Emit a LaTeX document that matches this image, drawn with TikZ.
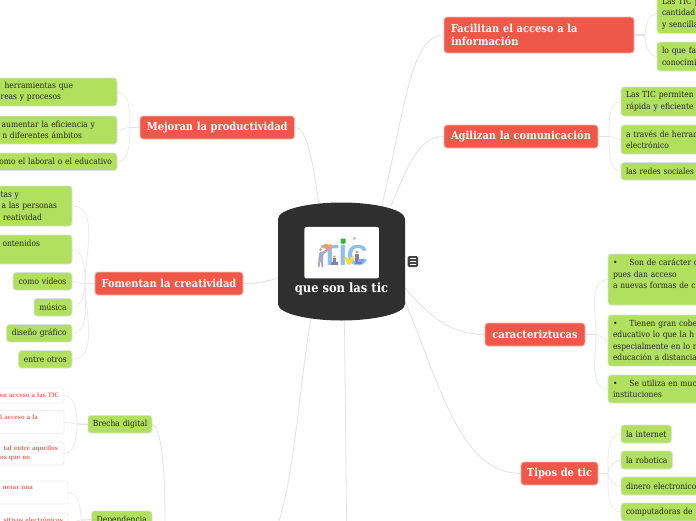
\documentclass[tikz,border=0pt]{standalone}
\usepackage{fontspec}
\setmainfont{DejaVu Serif Condensed}
\newfontfamily\sansb{Liberation Sans}
\usetikzlibrary{backgrounds}
\definecolor{grn}{HTML}{B0E05E}
\definecolor{grnl}{HTML}{DDE2D6}
\definecolor{rd}{HTML}{EF5848}
\definecolor{rdl}{HTML}{F5B9B2}
\definecolor{wl}{HTML}{EFEFEF}
\definecolor{wt}{HTML}{EE7166}
\definecolor{dk}{HTML}{2F2F2F}
\definecolor{lnk}{HTML}{E2E2E2}
\definecolor{lnks}{HTML}{EBEBEB}
\definecolor{tb}{HTML}{8CC2EA}
\tikzset{
 x=1pt,y=-1pt,
 boxbase/.style={rounded corners=3pt,inner sep=0pt,outer sep=0pt,line width=0.9pt},
 greenbox/.style={boxbase,fill=grn,draw=grnl,text=black!85,font=\fontsize{8.4}{11.4}\selectfont},
 redbox/.style={boxbase,fill=rd,draw=rdl,text=white,font=\fontsize{11}{13}\selectfont\bfseries},
 whitebox/.style={boxbase,fill=white,draw=wl,text=wt,font=\fontsize{6.1}{9.2}\selectfont\bfseries},
 link/.style={draw=lnk,line width=0.8pt},
 sublink/.style={draw=lnks,line width=0.8pt},
 stub/.style={draw=lnk,line width=1.2pt},
}
\newcommand\gp[1]{\rule{#1pt}{0pt}}
% #1 name, #2 style, #3 x1, #4 y1, #5 x2, #6 y2, #7 extra, #8 text
\newcommand\bx[8]{%
 \pgfmathsetmacro\bw{#5-#3}\pgfmathsetmacro\bh{#6-#4}%
 \pgfmathsetmacro\tw{#5-#3-10}%
 \node[#2,minimum width=\bw pt,minimum height=\bh pt,text width=\tw pt,#7] (#1) at ({(#3+#5)/2},{(#4+#6)/2}) {#8};}
\tikzset{ctd/.style={align=center,text width=\bw pt}}
\begin{document}
\begin{tikzpicture}
\useasboundingbox (0,0) rectangle (696,520);
\clip (0,0) rectangle (696,520);
% centre
\fill[dk] (278,219) .. controls (278,209) and (310,202.5) .. (341.5,202.5) .. controls (373,202.5) and (405,209) .. (405,219) -- (405,304) .. controls (405,314) and (373,320.5) .. (341.5,320.5) .. controls (310,320.5) and (278,314) .. (278,304) -- cycle;
\node[minimum width=127pt,minimum height=117pt,inner sep=0pt,outer sep=0pt] (ctr) at (341.5,261.5) {};
\node[inner sep=0pt,text=white,font=\fontsize{12.8}{14}\selectfont\bfseries] (ctrtxt) at (341.5,288.5) {que son las tic};
\node[fill=white,rounded corners=2pt,minimum width=74.5pt,minimum height=51.5pt,inner sep=0pt] (pic) at (341.7,252.7) {};
% picture inside
\node[inner sep=0pt,text=tb,font=\sansb\fontsize{29}{29}\selectfont\bfseries] (tictxt) at (344.5,256) {TIC};
\fill[rounded corners=0.6pt,green!65!black!80] (340.5,238.5) rectangle (345.5,243.5);
\fill[blue!25] (354.5,238.5) circle (1.8);
\fill[blue!15] (349,245) circle (1);
\fill[red!40!orange!60] (326,246) circle (2.3) (330,246.5) circle (2.3);
\fill[red!40!orange!60] (324,247) -- (332,247.5) -- (328.5,252) -- cycle;
\fill[yellow!70!orange!80] (345,257) .. controls (347,257) and (348,258) .. (349,260) .. controls (350,258) and (352,256) .. (354,256) .. controls (354,261) and (351,264) .. (349,265) .. controls (347,264) and (345,261) .. (345,257) -- cycle;
\fill[black!55!blue!35!white] (319.5,252) -- (323,251.5) -- (329,247.5) -- (329.5,249) -- (323.5,254.5) -- (323,260) -- (323,267) -- (321.5,267) -- (320.8,260) -- (319.5,267) -- (318,267) -- (318.5,258) -- cycle;
\fill[orange!50!brown!80] (320.5,249.5) circle (1.5);
\fill[blue!40!black!50] (331,262) rectangle (338,265);
\fill[blue!50!black!50] (332.5,258) rectangle (336,262);
\fill[orange!50!brown!80] (334.3,256.5) circle (1.3);
\fill[orange!50!brown!80] (357,252) circle (1.6);
\fill[blue!40!black!50] (355,254) rectangle (359,261);
\fill[blue!50!black!50] (355,261) rectangle (362,264);
\fill[tb!60!blue!70] (357.5,259) rectangle (364,262);
% menu icon
\node[fill=dk!90,rounded corners=1.5pt,minimum width=10.5pt,minimum height=11pt,inner sep=0pt] (menu) at (412.8,261.5) {};
\draw[white,line width=0.8pt] (409.8,258.8) -- (415.8,258.8) (409.8,261.5) -- (415.8,261.5) (409.8,264.2) -- (415.8,264.2);
% left top
\bx{mej}{redbox}{140}{116}{294.5}{139}{ctd}{Mejoran la productividad}
\bx{a1}{greenbox}{-40}{78}{117}{106}{align=right}{herramientas que\gp{39}\\reas y procesos\gp{51}}
\bx{a2}{greenbox}{-40}{116}{117}{144}{align=right}{aumentar la eficiencia y\gp{17}\\n diferentes ámbitos\gp{30}}
\bx{a3}{greenbox}{-40}{153}{117}{170.5}{align=right}{omo el laboral o el educativo}
% left middle
\bx{fom}{redbox}{95}{272}{243}{295}{ctd}{Fomentan la creatividad}
\bx{b1}{greenbox}{-60}{186}{72}{226}{align=right}{tas y\gp{48}\\a las personas\gp{10}\\reatividad\gp{25}}
\bx{b2}{greenbox}{-60}{235}{72}{264}{align=right}{ontenidos\gp{27}\\\mbox{}}
\bx{b3}{greenbox}{13}{272.5}{72}{290}{ctd}{como vídeos}
\bx{b4}{greenbox}{34}{298.5}{72}{316}{ctd}{música}
\bx{b5}{greenbox}{6.5}{324.5}{72}{342}{ctd}{diseño gráfico}
\bx{b6}{greenbox}{18.5}{350.5}{72}{368}{ctd}{entre otros}
% left bottom
\bx{br}{greenbox}{88}{415.5}{152}{433}{ctd}{Brecha digital}
\bx{c1}{whitebox}{-40}{388}{64}{403}{align=right}{en acceso a las TIC}
\bx{c2}{whitebox}{-40}{410.5}{64}{433.5}{align=right}{l acceso a la\gp{21}\\\mbox{}}
\bx{c3}{whitebox}{-40}{442}{64}{465}{align=right}{tal entre aquellos\gp{1}\\os que no\gp{29}}
\bx{dep}{greenbox}{91.5}{511}{152}{528.5}{ctd}{Dependencia}
\bx{d1}{whitebox}{-40}{481}{68}{504}{align=right}{nerar una\gp{30}\\\mbox{}}
\bx{d2}{whitebox}{-40}{513}{68}{536}{align=right}{sitivos electrónicos\\\mbox{}}
% right top
\bx{fac}{redbox}{444}{17}{634}{53}{align=left,text width=176pt}{Facilitan el acceso a la\\información}
\bx{e1}{greenbox}{657}{-6}{780}{33.5}{align=left}{Las TIC p\\cantidad\\y sencilla}
\bx{e2}{greenbox}{657}{42}{780}{71}{align=left}{lo que fa\\conocimi}
\bx{agi}{redbox}{444}{125}{598}{148}{ctd}{Agilizan la comunicación}
\bx{f1}{greenbox}{621}{87}{780}{116}{align=left}{Las TIC permiten\\rápida y eficiente}
\bx{f2}{greenbox}{621}{125}{780}{154}{align=left}{a través de herram\\electrónico}
\bx{f3}{greenbox}{621}{162.5}{780}{180}{align=left}{las redes sociales}
% right bottom
\bx{car}{redbox}{485}{323}{585}{346}{ctd}{caracteriztucas}
\bx{g1}{greenbox}{608}{254}{780}{305}{align=left}{•\hspace{12pt}Son de carácter d\\pues dan acceso\\a nuevas formas de c\\\mbox{}}
\bx{g2}{greenbox}{608}{315}{780}{366}{align=left}{•\hspace{12pt}Tienen gran cobe\\educativo lo que la h\\especialmente en lo r\\educación a distancia}
\bx{g3}{greenbox}{608}{375}{780}{403}{align=left}{•\hspace{12pt}Se utiliza en much\\instituciones}
\bx{tip}{redbox}{521}{462}{598}{485}{ctd}{Tipos de tic}
\bx{h1}{greenbox}{621}{425}{671.5}{443}{ctd}{la internet}
\bx{h2}{greenbox}{621}{451}{672.5}{469}{ctd}{la robotica}
\bx{h3}{greenbox}{621}{477}{780}{495}{align=left}{dinero electronico}
\bx{h4}{greenbox}{621}{503}{780}{521}{align=left}{computadoras de}
% hubs and attach points
\coordinate (hm) at (130,127.5); \coordinate (hf) at (85,283.5); \coordinate (hb) at (77,424);
\coordinate (hd) at (81,520); \coordinate (he) at (645,35); \coordinate (hg) at (609,136.5);
\coordinate (hc) at (596,334.5); \coordinate (ht) at (608,473.5);
\coordinate (cm) at (319,205); \coordinate (cf) at (279,278); \coordinate (cfa) at (382,205);
\coordinate (cag) at (391,206); \coordinate (cca) at (404,287); \coordinate (cti) at (404,299);
\coordinate (cb1) at (311,318); \coordinate (cb2) at (344.5,318);
\coordinate (endA) at (279,521); \coordinate (endB) at (346.5,521); \coordinate (endC) at (165,521);
\begin{scope}[on background layer]
\fill[white] (0,0) rectangle (696,520);
\draw[link] (mej.east) .. controls (308,127.5) and (313,165) .. (cm);
\draw[link] (fom.east) .. controls (255,283.5) and (265,282) .. (cf);
\draw[link] (fac.west) .. controls (410,35) and (405,110) .. (cfa);
\draw[link] (agi.west) .. controls (420,136.5) and (410,160) .. (cag);
\draw[link] (car.west) .. controls (445,334.5) and (425,310) .. (cca);
\draw[link] (tip.west) .. controls (460,473.5) and (440,385) .. (cti);
\draw[link] (cb1) .. controls (300,380) and (295,470) .. (endA);
\draw[link] (cb2) .. controls (345,380) and (346,460) .. (endB);
\draw[link] (br.east) .. controls (163,428) and (165,480) .. (endC);
\draw[stub] (mej.west) -- (hm); \draw[stub] (fom.west) -- (hf); \draw[stub] (br.west) -- (hb);
\draw[stub] (dep.west) -- (hd); \draw[stub] (fac.east) -- (he); \draw[stub] (agi.east) -- (hg);
\draw[stub] (car.east) -- (hc); \draw[stub] (tip.east) -- (ht);
\foreach \h/\t/\o in {hm/a1/90,hm/a2/180,hm/a3/-90,hf/b1/90,hf/b2/90,hf/b3/180,hf/b4/-90,hf/b5/-90,hf/b6/-90,hb/c1/90,hb/c2/180,hb/c3/-90,hd/d1/90,hd/d2/180}
  \draw[sublink] (\h) to[out=\o,in=0,looseness=0.9] (\t.east);
\foreach \h/\t/\o in {he/e1/90,he/e2/-90,hg/f1/90,hg/f2/0,hg/f3/-90,hc/g1/90,hc/g2/0,hc/g3/-90,ht/h1/90,ht/h2/90,ht/h3/-90,ht/h4/-90}
  \draw[sublink] (\h) to[out=\o,in=180,looseness=0.9] (\t.west);
\end{scope}
\end{tikzpicture}
\end{document}
